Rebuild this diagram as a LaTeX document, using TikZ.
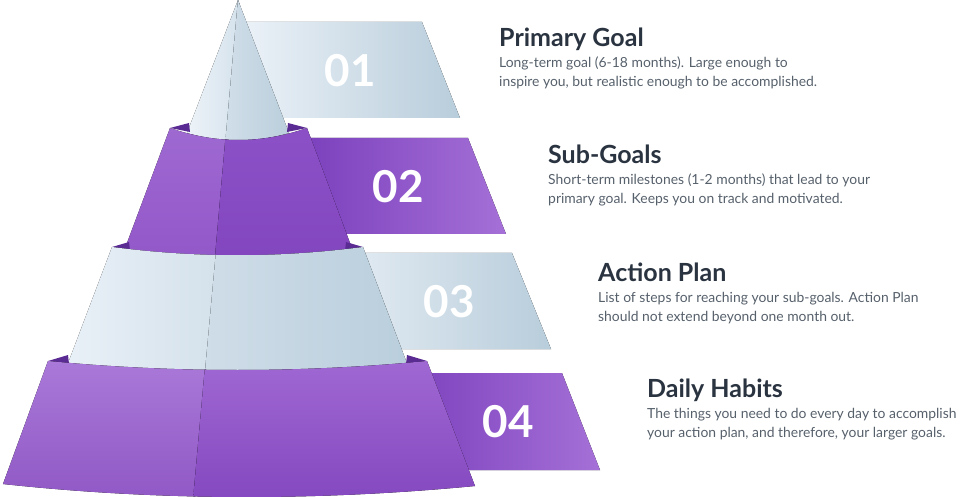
\documentclass[tikz,border=0pt]{standalone}
\usepackage{fontspec}
\setmainfont{Lato}
\definecolor{headc}{HTML}{2A3340}
\definecolor{bodyc}{HTML}{56606B}
\definecolor{flapc}{HTML}{5B2B94}
\tikzset{
  heading/.style={anchor=base west,inner sep=0pt,text=headc,font=\fontsize{25}{30}\selectfont\bfseries},
  bodytext/.style={anchor=base west,inner sep=0pt,text=bodyc,font=\fontsize{13.9}{19}\selectfont},
  num/.style={inner sep=0pt,text=white,font=\fontsize{44}{50}\selectfont\bfseries},
  flap/.style={fill=flapc,draw=none}
}
\begin{document}
\begin{tikzpicture}[x=1pt,y=-1pt]
\useasboundingbox (0,0) rectangle (980,497);
% ---------- bands ----------
\definecolor{bA}{HTML}{ECF2F8}\definecolor{bB}{HTML}{B8CDDB}
\definecolor{pA}{HTML}{7236B7}\definecolor{pB}{HTML}{A570D7}
\fill[left color=bA,right color=bB] (240,22) -- (422,22) -- (460,118) -- (240,118) -- cycle;
\fill[left color=pA,right color=pB] (260,138) -- (468,138) -- (506,234) -- (260,234) -- cycle;
\fill[left color=bA,right color=bB] (300,253) -- (512,253) -- (551,349) -- (300,349) -- cycle;
\fill[left color=pA,right color=pB] (360,373) -- (562,373) -- (600,470) -- (360,470) -- cycle;
\node[num] (n1) at (350,71) {01};
\node[num] (n2) at (398,187) {02};
\node[num] (n3) at (449,302) {03};
\node[num] (n4) at (508,422) {04};
% ---------- cone ----------
\definecolor{lA}{HTML}{EEF4F9}\definecolor{lB}{HTML}{D5E2EC}
\definecolor{lC}{HTML}{D0DEE9}\definecolor{lD}{HTML}{B9CEDB}
\begin{scope}
\clip (238,0) -- (289,133) .. controls (255,143) and (221,143) .. (187,133) -- cycle;
\fill[left color=lA,right color=lB] (185,-1) -- (240,-1) -- (227,145) -- (185,145) -- cycle;
\fill[left color=lC,right color=lD] (238,-1) -- (292,-1) -- (292,145) -- (225,145) -- cycle;
\end{scope}
% ---------- tier 2 ----------
\fill[flap] (170,128) -- (189,123) -- (190,132) -- cycle;
\fill[flap] (307,128) -- (288,123) -- (287,132) -- cycle;
\definecolor{tA}{HTML}{9F6AD2}\definecolor{tB}{HTML}{9256C8}
\definecolor{tC}{HTML}{8C51C7}\definecolor{tD}{HTML}{8245BE}
\begin{scope}
\clip (170,128) .. controls (216,144) and (261,144) .. (307,128) -- (353,251) .. controls (277,266) and (201,266) .. (124,251) -- cycle;
\fill[top color=tA,bottom color=tB] (120,120) -- (229,120) -- (216,268) -- (120,268) -- cycle;
\fill[top color=tC,bottom color=tD] (227,120) -- (360,120) -- (360,268) -- (214,268) -- cycle;
\end{scope}
% ---------- tier 3 ----------
\fill[flap] (112,247) -- (129,242) -- (130,251) -- cycle;
\fill[flap] (363,247) -- (346,242) -- (345,251) -- cycle;
\definecolor{mA}{HTML}{EAF1F8}\definecolor{mB}{HTML}{D4E1EB}
\definecolor{mC}{HTML}{CFDDE8}\definecolor{mD}{HTML}{B9CEDC}
\begin{scope}
\clip (112,247) .. controls (196,258) and (279,258) .. (363,247) -- (408,366) .. controls (295,377) and (180,377) .. (67,366) -- cycle;
\fill[left color=mA,right color=mB] (60,240) -- (219,240) -- (206,382) -- (60,382) -- cycle;
\fill[left color=mC,right color=mD] (217,240) -- (412,240) -- (412,382) -- (204,382) -- cycle;
\end{scope}
% ---------- tier 4 ----------
\fill[flap] (48,361) -- (68,355) -- (69,364) -- cycle;
\fill[flap] (427,361) -- (407,355) -- (406,364) -- cycle;
\definecolor{qA}{HTML}{AA7AD9}\definecolor{qB}{HTML}{9058C5}
\definecolor{qC}{HTML}{A069D3}\definecolor{qD}{HTML}{8548C0}
\begin{scope}
\clip (48,361) .. controls (174,373) and (301,373) .. (427,361) -- (475,486) .. controls (318,501) and (160,501) .. (3,484) -- cycle;
\fill[top color=qA,bottom color=qB] (0,355) -- (208,355) -- (195,500) -- (0,500) -- cycle;
\fill[top color=qC,bottom color=qD] (206,355) -- (480,355) -- (480,500) -- (193,500) -- cycle;
\end{scope}
% ---------- texts ----------
\node[heading] (h1) at (499,47) {Primary Goal};
\node[bodytext] (b1a) at (499,68) {Long-term goal (6-18 months). Large enough to};
\node[bodytext] (b1b) at (499,87) {inspire you, but realistic enough to be accomplished.};
\node[heading] (h2) at (548,164) {Sub-Goals};
\node[bodytext] (b2a) at (548,185) {Short-term milestones (1-2 months) that lead to your};
\node[bodytext] (b2b) at (548,204) {primary goal. Keeps you on track and motivated.};
\node[heading] (h3) at (598,281) {Action Plan};
\node[bodytext] (b3a) at (598,302) {List of steps for reaching your sub-goals. Action Plan};
\node[bodytext] (b3b) at (598,321) {should not extend beyond one month out.};
\node[heading] (h4) at (647,397) {Daily Habits};
\node[bodytext] (b4a) at (647,418) {The things you need to do every day to accomplish};
\node[bodytext] (b4b) at (647,437) {your action plan, and therefore, your larger goals.};
\end{tikzpicture}
\end{document}
